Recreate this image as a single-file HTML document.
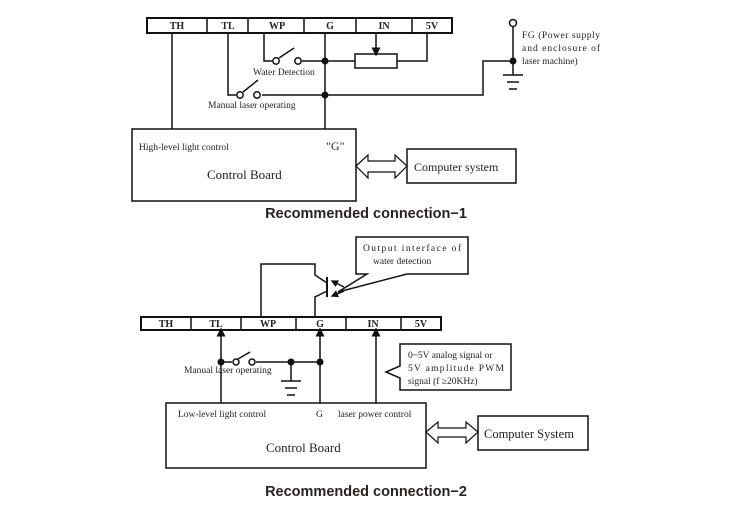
<!DOCTYPE html>
<html><head><meta charset="utf-8"><style>
html,body{margin:0;padding:0;background:#fff;}
svg{display:block;}
.s{font-family:"Liberation Serif",serif;fill:#222;}
.t{font-family:"Liberation Sans",sans-serif;font-weight:bold;fill:#2a2220;font-size:14.5px;}
</style></head><body>
<svg width="750" height="507" viewBox="0 0 750 507" xmlns="http://www.w3.org/2000/svg">
<defs>
<marker id="a" markerWidth="6" markerHeight="6" refX="3" refY="3" orient="auto"><path d="M0,0 L6,3 L0,6 z" fill="#111"/></marker>
<marker id="b" markerWidth="5" markerHeight="5" refX="4" refY="2.5" orient="auto"><path d="M0,0 L5,2.5 L0,5 z" fill="#111"/></marker>
</defs>
<g stroke="#111" stroke-width="1.5" fill="none">
<rect x="147" y="18" width="305" height="15" stroke-width="2"/>
<path d="M207,18V33M248,18V33M304,18V33M356,18V33M412,18V33"/>
<path d="M172,33V129"/>
<path d="M228,33V95H236M243,92L258,80M262,95H483V61H513"/>
<circle cx="240" cy="95" r="3.2" fill="#fff"/><circle cx="257" cy="95" r="3.2" fill="#fff"/>
<path d="M264,33V61H272M279,58L294,48M302,61H355M397,61H427V33"/>
<circle cx="276" cy="61" r="3.2" fill="#fff"/><circle cx="298" cy="61" r="3.2" fill="#fff"/>
<rect x="355" y="54" width="42" height="14"/>
<path d="M376,33V52" marker-end="url(#a)"/>
<path d="M325,33V129"/>
<path d="M513,27V75M503,75H523M507,82H519M509,89H517"/>
<circle cx="513" cy="23" r="3.5" fill="#fff"/>
<rect x="132" y="129" width="224" height="72"/>
<path d="M356,166L368,155V161H395V155L407,166L395,178V172H368V178Z" stroke-width="1.2"/>
<rect x="407" y="149" width="109" height="34"/>
<rect x="141" y="317" width="300" height="13" stroke-width="2"/>
<path d="M191,317V330M241,317V330M296,317V330M346,317V330M401,317V330"/>
<path d="M261,317V264H315V275L327,283M327,291L315,297V317"/>
<path d="M327,277V297" stroke-width="2"/>
<path d="M344,287L332,281" marker-end="url(#b)"/>
<path d="M344,291L332,296" marker-end="url(#b)"/>
<path d="M356,237H468V274H407L338,292L367,274H356Z" fill="#fff"/>
<path d="M221,403V332" marker-end="url(#a)"/>
<path d="M320,403V332" marker-end="url(#a)"/>
<path d="M376,403V332" marker-end="url(#a)"/>
<path d="M221,362H232M238,359L250,352M256,362H320M291,362V381M281,381H301M285,388H297M287,395H295"/>
<circle cx="236" cy="362" r="3" fill="#fff"/><circle cx="252" cy="362" r="3" fill="#fff"/>
<path d="M400,344H511V390H400V378L386,372L400,366Z" fill="#fff"/>
<rect x="166" y="403" width="260" height="65"/>
<path d="M426,432L438,422V428H466V422L478,432L466,443V437H438V443Z" stroke-width="1.2"/>
<rect x="478" y="416" width="110" height="34"/>
</g>
<g fill="#111">
<circle cx="325" cy="61" r="3.5"/><circle cx="325" cy="95" r="3.5"/><circle cx="513" cy="61" r="3.5"/>
<circle cx="221" cy="362" r="3.5"/><circle cx="291" cy="362" r="3.5"/><circle cx="320" cy="362" r="3.5"/>
</g>
<g class="s" font-size="10" font-weight="bold" text-anchor="middle">
<text x="177" y="29">TH</text><text x="228" y="29">TL</text><text x="277" y="29">WP</text><text x="330" y="29">G</text><text x="384" y="29">IN</text><text x="432" y="29">5V</text>
<text x="166" y="327">TH</text><text x="216" y="327">TL</text><text x="268" y="327">WP</text><text x="320" y="327">G</text><text x="373" y="327">IN</text><text x="421" y="327">5V</text>
</g>
<g class="s" font-size="9.5">
<text x="253" y="75">Water Detection</text>
<text x="208" y="108">Manual laser operating</text>
<text x="522" y="38" textLength="78" lengthAdjust="spacing">FG (Power supply</text>
<text x="522" y="51" textLength="78" lengthAdjust="spacing">and enclosure of</text>
<text x="522" y="64">laser machine)</text>
<text x="139" y="150">High-level light control</text>
<text x="326" y="150" font-size="12">"G"</text>
<text x="207" y="179" font-size="13">Control Board</text>
<text x="414" y="171" font-size="12">Computer system</text>
<text x="363" y="251" textLength="98" lengthAdjust="spacing">Output interface of</text>
<text x="373" y="264">water detection</text>
<text x="184" y="373">Manual laser operating</text>
<text x="408" y="358">0~5V analog signal or</text>
<text x="408" y="371" textLength="96" lengthAdjust="spacing">5V amplitude PWM</text>
<text x="408" y="384">signal (f ≥20KHz)</text>
<text x="178" y="417">Low-level light control</text>
<text x="316" y="417">G</text>
<text x="338" y="417">laser power control</text>
<text x="266" y="452" font-size="13">Control Board</text>
<text x="484" y="438" font-size="12.5">Computer System</text>
</g>
<text class="t" x="366" y="218" text-anchor="middle">Recommended connection−1</text>
<text class="t" x="366" y="496" text-anchor="middle">Recommended connection−2</text>
</svg>
</body></html>
